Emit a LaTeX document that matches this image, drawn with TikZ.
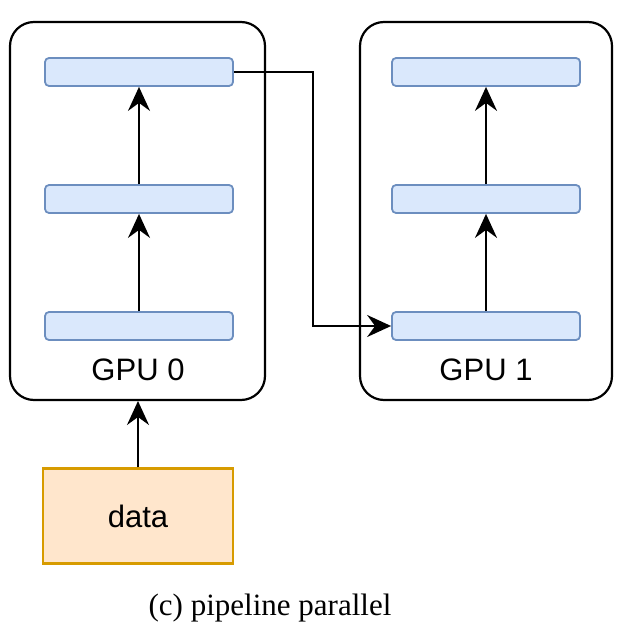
\documentclass[tikz,border=0pt]{standalone}
\usepackage{fontspec}
\setmainfont{Liberation Serif}
\newfontfamily\sansf{Liberation Sans}
\usetikzlibrary{positioning,arrows.meta}
\definecolor{layerfill}{RGB}{218,232,252}
\definecolor{layerdraw}{RGB}{108,142,191}
\definecolor{datafill}{RGB}{255,230,204}
\definecolor{datadraw}{RGB}{215,155,0}
\begin{document}
\begin{tikzpicture}[x=1pt,y=-1pt]
            \tikzstyle{gpu}=[draw=black,line width=2.2pt,rounded corners=24pt]
            \tikzstyle{layer}=[draw=layerdraw,fill=layerfill,line width=1.8pt,rounded corners=4pt,minimum width=188pt,minimum height=28pt,inner sep=0pt]
            \tikzstyle{flow}=[draw=black,line width=2pt,-{Stealth[length=24pt,width=22pt,inset=8pt]}]
            \useasboundingbox (0,0) rectangle (626,639);
            \draw [gpu] (10,22) rectangle (265,400);
            \draw [gpu] (360,22) rectangle (612,400);
            \node [font=\sansf\fontsize{31}{34}\selectfont] (g0) at (138,370) {GPU 0};
            \node [font=\sansf\fontsize{31}{34}\selectfont] (g1) at (486,370) {GPU 1};
            \node [layer] (a1) at (139,72) {};
            \node [layer] (a2) at (139,199) {};
            \node [layer] (a3) at (139,326) {};
            \node [layer] (b1) at (486,72) {};
            \node [layer] (b2) at (486,199) {};
            \node [layer] (b3) at (486,326) {};
            \node [draw=datadraw,fill=datafill,line width=2.2pt,minimum width=190pt,minimum height=95pt,font=\sansf\fontsize{31}{34}\selectfont] (data) at (138,516) {data};
            \node [font=\fontsize{31}{34}\selectfont] (cap) at (270,608) {(c) pipeline parallel};
            \draw [flow] (data) -- (138,401);
            \draw [flow] (a3) -- (a2);
            \draw [flow] (a2) -- (a1);
            \draw [flow] (b3) -- (b2);
            \draw [flow] (b2) -- (b1);
            \draw [flow] (a1.east) -- (313,72) -- (313,326) -- (b3.west);
\end{tikzpicture}
\end{document}
